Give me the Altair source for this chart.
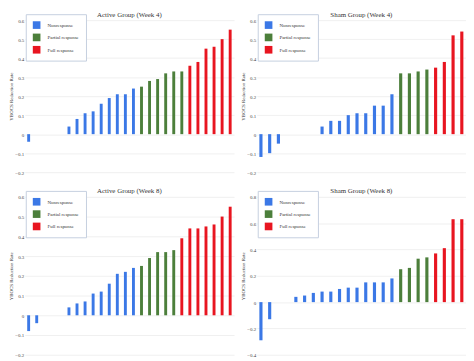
import altair as alt
import pandas as pd

N, P, F = "Nonresponse", "Partial response", "Full response"

# Active Group (Week 4)
active_w4 = [-0.04, 0, 0, 0, 0, 0.04, 0.08, 0.11, 0.12, 0.16, 0.19, 0.21, 0.21, 0.24,
             0.25, 0.28, 0.29, 0.32, 0.33, 0.33,
             0.36, 0.38, 0.45, 0.46, 0.50, 0.55]
active_w4_resp = [N] * 14 + [P] * 6 + [F] * 6

# Sham Group (Week 4)
sham_w4 = [-0.12, -0.10, -0.05, 0, 0, 0, 0, 0.04, 0.07, 0.07, 0.10, 0.11, 0.11, 0.15, 0.15, 0.21,
           0.32, 0.32, 0.33, 0.34,
           0.35, 0.38, 0.52, 0.54]
sham_w4_resp = [N] * 16 + [P] * 4 + [F] * 4

# Active Group (Week 8)
active_w8 = [-0.08, -0.04, 0, 0, 0, 0.04, 0.06, 0.07, 0.11, 0.12, 0.16, 0.21, 0.22, 0.24,
             0.25, 0.29, 0.32, 0.32, 0.33,
             0.39, 0.44, 0.44, 0.45, 0.46, 0.50, 0.55]
active_w8_resp = [N] * 14 + [P] * 5 + [F] * 7

# Sham Group (Week 8)
sham_w8 = [-0.29, -0.13, 0, 0, 0.04, 0.05, 0.07, 0.08, 0.08, 0.10, 0.11, 0.11, 0.15, 0.15, 0.15, 0.18,
           0.25, 0.26, 0.33, 0.34,
           0.37, 0.41, 0.63, 0.63]
sham_w8_resp = [N] * 16 + [P] * 4 + [F] * 4

categories = [N, P, F]
colors = ["#3B78E6", "#4C7F3B", "#E81520"]
ticks_small = [-0.2, -0.1, 0, 0.1, 0.2, 0.3, 0.4, 0.5, 0.6]
ticks_large = [-0.4, -0.2, 0, 0.2, 0.4, 0.6, 0.8]

FONT = "Liberation Serif"


def panel(values, resp, title, ticks, w, h):
    df = pd.DataFrame({"patient": list(range(1, len(values) + 1)),
                       "rate": values, "response": resp})
    return alt.Chart(df, title=alt.Title(title, fontSize=7, font=FONT, fontWeight="normal",
                                         color="#333333", offset=-4)).mark_bar().encode(
        x=alt.X("patient:O", axis=None,
                scale=alt.Scale(paddingInner=0.64, paddingOuter=0.3)),
        y=alt.Y("rate:Q",
                scale=alt.Scale(domain=[ticks[0], ticks[-1]], nice=False, zero=False),
                axis=alt.Axis(values=ticks, format=".1~f", title="YBOCS Reduction Rate",
                              titleFontSize=5, titleFont=FONT, titleFontWeight="normal",
                              titleColor="#333333", titlePadding=1,
                              labelFontSize=5, labelFont=FONT, labelColor="#444444",
                              labelPadding=1, domain=False, ticks=False,
                              grid=True, gridColor="#ececec", gridWidth=0.8)),
        color=alt.Color("response:N",
                        scale=alt.Scale(domain=categories, range=colors),
                        legend=alt.Legend(title=None, orient="none", legendX=1, legendY=-6,
                                          symbolType="square", symbolSize=60,
                                          symbolStrokeWidth=0, labelFontSize=5,
                                          labelFont=FONT, labelColor="#333333",
                                          labelOffset=7, rowPadding=4.5, padding=7,
                                          fillColor="white", strokeColor="#c5cfe0",
                                          cornerRadius=0)),
    ).properties(width=w, height=h)


p1 = panel(active_w4, active_w4_resp, "Active Group (Week 4)", ticks_small, 212, 154)
p2 = panel(sham_w4, sham_w4_resp, "Sham Group (Week 4)", ticks_small, 212, 154)
p3 = panel(active_w8, active_w8_resp, "Active Group (Week 8)", ticks_small, 212, 160)
p4 = panel(sham_w8, sham_w8_resp, "Sham Group (Week 8)", ticks_large, 212, 160)

row1 = alt.hconcat(p1, p2, spacing=6).resolve_legend(color="independent")
row2 = alt.hconcat(p3, p4, spacing=6).resolve_legend(color="independent")

chart = alt.vconcat(row1, row2, spacing=12).resolve_legend(color="independent").properties(
    padding=0
).configure(background="white").configure_view(stroke=None)

chart.save("out.html", embed_options={"renderer": "svg", "actions": False})
